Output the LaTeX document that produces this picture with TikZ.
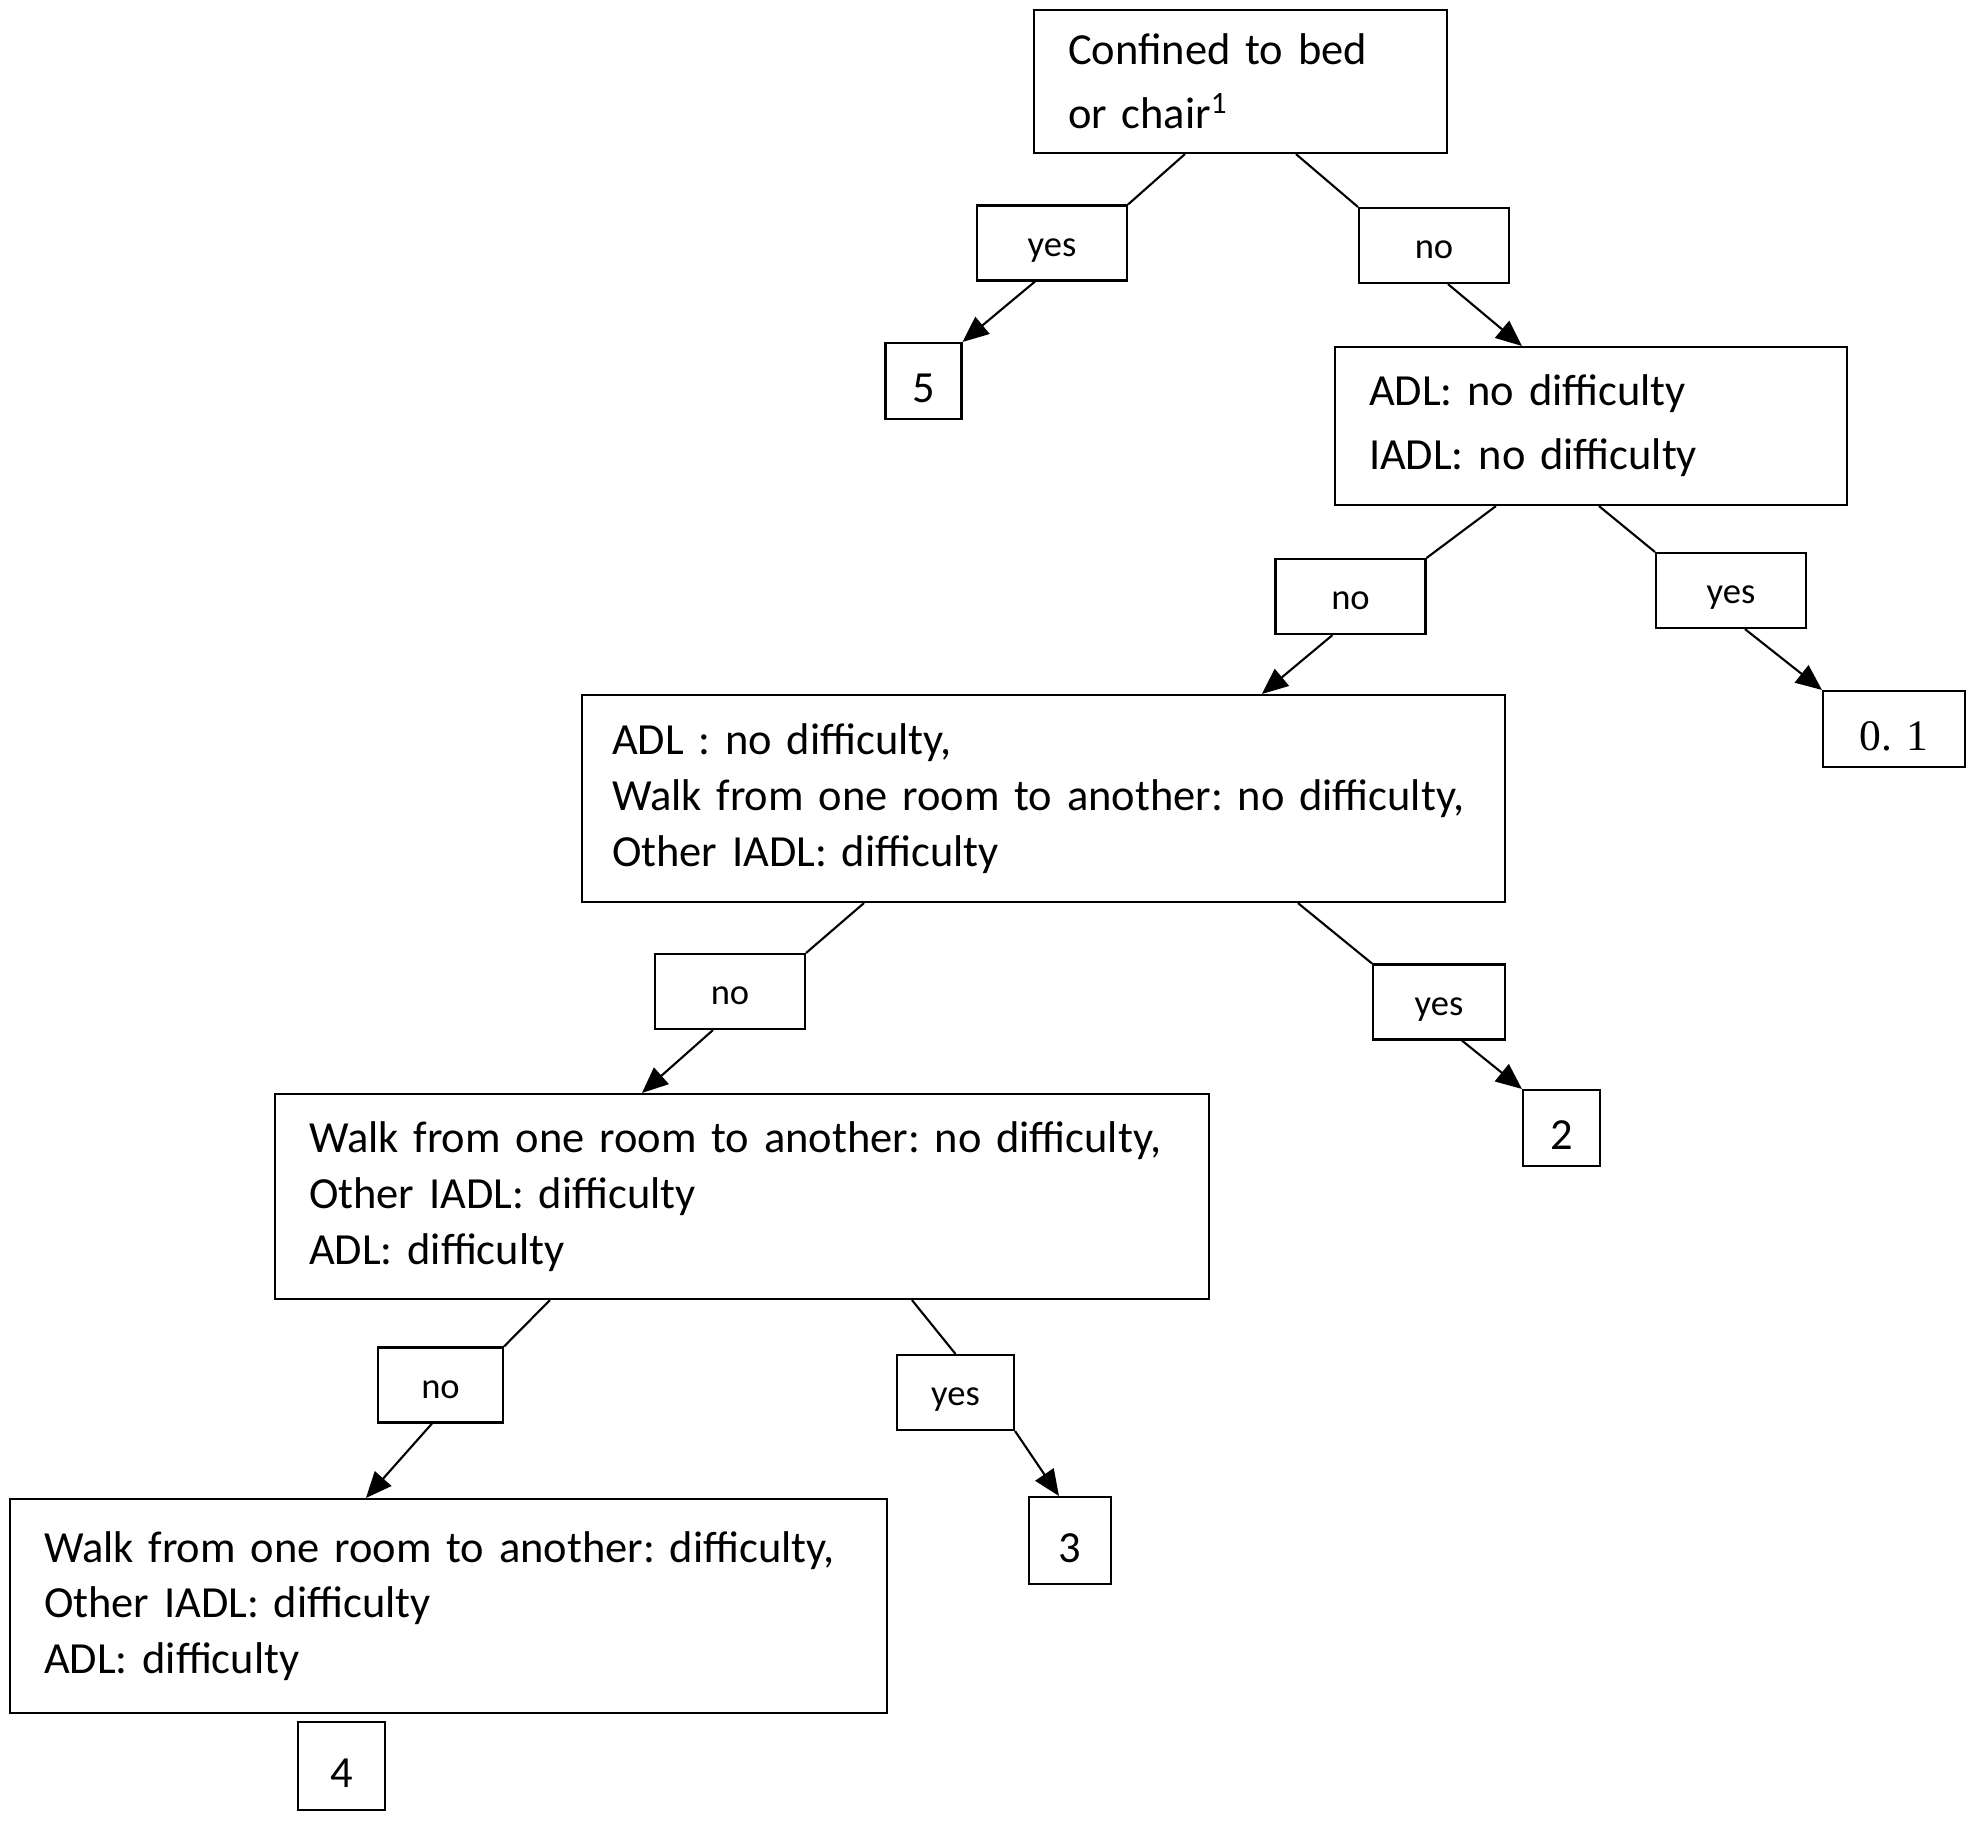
\documentclass[tikz,border=0pt]{standalone}
\usepackage{fontspec}
\setmainfont{Carlito}
\newfontfamily\numfont{Liberation Serif}
\usetikzlibrary{arrows.meta,positioning}

\begin{document}
\begin{tikzpicture}[
  q/.style={draw, line width=0.6pt, align=left, inner xsep=0.34cm,
    font=\fontsize{12.65}{15.9}\selectfont\frenchspacing},
  qtop/.style={q, font=\fontsize{12.65}{18.2}\selectfont\frenchspacing},
  ans/.style={draw, line width=0.6pt, inner sep=0pt, minimum width=1.5cm,
    minimum height=0.75cm, text height=7.5pt, text depth=0pt,
    font=\fontsize{10.4}{12}\selectfont},
  score/.style={draw, line width=0.6pt, inner sep=0pt, minimum width=0.76cm,
    minimum height=0.76cm, text height=12.3pt, text depth=0pt,
    font=\fontsize{12.65}{15}\selectfont},
  link/.style={line width=0.6pt},
  arr/.style={line width=0.6pt, -{Triangle[length=2.6mm,width=2.2mm]}}
]
  \useasboundingbox (0,0) rectangle (19.78,-18.20);

  % questions
  \node[qtop, text width=3.45cm, minimum height=1.43cm] (bed) at (12.405,-0.815)
    {Confined to bed\\or chair\textsuperscript{1}};
  \node[qtop, text width=4.44cm, minimum height=1.58cm] (adl) at (15.91,-4.26)
    {ADL: no difficulty\\IADL: no difficulty};
  \node[q, inner xsep=0.30cm, text width=8.63cm, minimum height=2.07cm] (walk) at (10.435,-7.985)
    {ADL : no difficulty,\\Walk from one room to another: no difficulty,\\Other IADL: difficulty};
  \node[q, text width=8.66cm, minimum height=2.05cm] (adld) at (7.42,-11.965)
    {Walk from one room to another: no difficulty,\\Other IADL: difficulty\\ADL: difficulty};
  \node[q, text width=8.09cm, minimum height=2.14cm] (walkd) at (4.485,-16.06)
    {Walk from one room to another: difficulty,\\Other IADL: difficulty\\ADL: difficulty};

  % answers
  \node[ans] (yes1) at (10.52,-2.43) {yes};
  \node[ans] (no1) at (14.34,-2.455) {no};
  \node[ans] (no2) at (13.505,-5.965) {no};
  \node[ans] (yes2) at (17.31,-5.905) {yes};
  \node[ans] (no3) at (7.30,-9.915) {no};
  \node[ans, minimum width=1.32cm] (yes3) at (14.39,-10.02) {yes};
  \node[ans, minimum width=1.25cm] (no4) at (4.405,-13.85) {no};
  \node[ans, minimum width=1.17cm] (yes4) at (9.555,-13.925) {yes};

  % scores
  \node[score] (s5) at (9.235,-3.81) {5};
  \node[score, minimum width=1.42cm, font=\numfont\fontsize{12.4}{15}\selectfont] (s01) at (18.94,-7.29) {0. 1};
  \node[score, minimum width=0.77cm] (s2) at (15.615,-11.28) {2};
  \node[score, minimum width=0.82cm, minimum height=0.87cm] (s3) at (10.70,-15.405) {3};
  \node[score, minimum width=0.87cm, minimum height=0.88cm] (s4) at (3.415,-17.66) {4};

  \draw[link] ([xshift=1.52cm]bed.south west) -- (yes1.north east);
  \draw[link] ([xshift=2.63cm]bed.south west) -- (no1.north west);
  \draw[arr] ([xshift=0.59cm]yes1.south west) -- (s5.north east);
  \draw[arr] ([xshift=0.90cm]no1.south west) -- ([xshift=1.88cm]adl.north west);

  \draw[link] ([xshift=1.62cm]adl.south west) -- (no2.north east);
  \draw[link] ([xshift=2.65cm]adl.south west) -- (yes2.north west);
  \draw[arr] ([xshift=0.58cm]no2.south west) -- ([xshift=6.81cm]walk.north west);
  \draw[arr] ([xshift=0.90cm]yes2.south west) -- (s01.north west);

  \draw[link] ([xshift=2.83cm]walk.south west) -- (no3.north east);
  \draw[link] ([xshift=7.17cm]walk.south west) -- (yes3.north west);
  \draw[arr] ([xshift=0.59cm]no3.south west) -- ([xshift=3.68cm]adld.north west);
  \draw[arr] ([xshift=0.90cm]yes3.south west) -- (s2.north west);

  \draw[link] ([xshift=2.76cm]adld.south west) -- (no4.north east);
  \draw[link] ([xshift=6.38cm]adld.south west) -- (yes4.north);
  \draw[arr] ([xshift=0.55cm]no4.south west) -- ([xshift=3.57cm]walkd.north west);
  \draw[arr] (yes4.south east) -- ([xshift=0.31cm]s3.north west);
\end{tikzpicture}
\end{document}
